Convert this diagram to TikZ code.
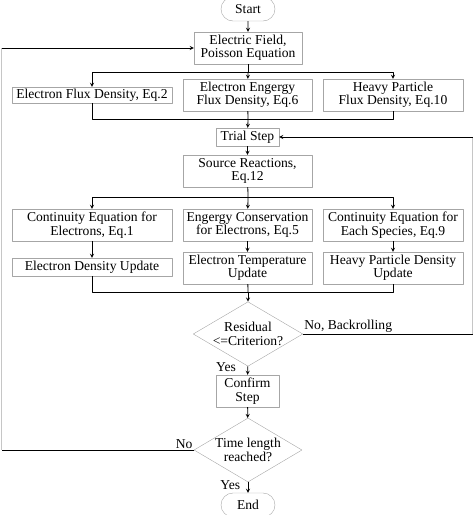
\documentclass[tikz,border=0pt]{standalone}
\usepackage{fontspec}
\setmainfont{Liberation Serif}
\usetikzlibrary{shapes.geometric,shapes.misc}
\begin{document}
\begin{tikzpicture}[>=stealth,line join=round,x=1pt,y=-1pt,font=\fontsize{13.6}{13.4}\selectfont,
	box/.style={draw=gray!70,align=center,inner sep=0pt},
	term/.style={draw=gray!70,rounded rectangle,minimum width=54pt,minimum height=24pt,inner sep=0pt},
	dec/.style={draw=gray!70,diamond,align=center,minimum width=108pt,minimum height=64pt,inner sep=0pt,aspect=1.7},
	wire/.style={line width=0.8pt},
	side/.style={line width=1.6pt,gray!45}]
	\def\xA{92} \def\xB{247.5} \def\xC{393}
	\def\wA{160pt} \def\wB{129pt} \def\wC{140pt}
	\useasboundingbox (0,0) rectangle (474,515);
	\node[term] (start) at (248,9) {Start};
	\node[box,minimum width=108pt,minimum height=32pt] (field) at (248,48) {Electric Field,\\Poisson Equation};
	\node[box,minimum width=\wA,minimum height=16pt] (fluxE) at (\xA,95) {Electron Flux Density, Eq.2};
	\node[box,minimum width=\wB,minimum height=32pt] (fluxEn) at (\xB,95) {Electron Engergy\\Flux Density, Eq.6};
	\node[box,minimum width=\wC,minimum height=32pt] (fluxH) at (\xC,95) {Heavy Particle\\Flux Density, Eq.10};
	\node[box,minimum width=63pt,minimum height=18pt] (trial) at (\xB,137) {Trial Step};
	\node[box,minimum width=\wB,minimum height=32pt] (source) at (\xB,171) {Source Reactions,\\Eq.12};
	\node[box,minimum width=\wA,minimum height=32pt] (contE) at (\xA,225) {Continuity Equation for\\Electrons, Eq.1};
	\node[box,minimum width=\wB,minimum height=32pt] (contEn) at (\xB,225) {Engergy Conservation\\for Electrons, Eq.5};
	\node[box,minimum width=\wC,minimum height=32pt] (contH) at (\xC,225) {Continuity Equation for\\Each Species, Eq.9};
	\node[box,minimum width=\wA,minimum height=18pt] (updE) at (\xA,267) {Electron Density Update};
	\node[box,minimum width=\wB,minimum height=32pt] (updEn) at (\xB,268) {Electron Temperature\\Update};
	\node[box,minimum width=\wC,minimum height=32pt] (updH) at (\xC,268) {Heavy Particle Density\\Update};
	\node[dec] (resid) at (248,334) {Residual\\<=Criterion?};
	\node[box,minimum width=63pt,minimum height=32pt] (confirm) at (\xB,391) {Confirm\\Step};
	\node[dec] (time) at (248,450) {Time length\\reached?};
	\node[term] (end) at (248,505) {End};
	\coordinate (split1) at (248,72);
	\coordinate (join1) at (248,119);
	\coordinate (split2) at (248,197);
	\coordinate (join2) at (248,292);
	\coordinate (backB) at (472.5,334);
	\coordinate (backT) at (472.5,137);
	\coordinate (loopB) at (1.5,450);
	\coordinate (loopT) at (1.5,48);
	\draw[wire,->] (start) -- (field);
	\draw[wire] (field) -- (split1);
	\draw[wire,->] (split1) -| (fluxE.north);
	\draw[wire,->] (split1) -- (fluxEn);
	\draw[wire,->] (split1) -| (fluxH.north);
	\draw[wire] (fluxE.south) |- (join1);
	\draw[wire] (fluxH.south) |- (join1);
	\draw[wire] (fluxEn) -- (join1);
	\draw[wire,->] (join1) -- (trial);
	\draw[wire,->] (trial) -- (source);
	\draw[wire] (source) -- (split2);
	\draw[wire,->] (split2) -| (contE.north);
	\draw[wire,->] (split2) -- (contEn);
	\draw[wire,->] (split2) -| (contH.north);
	\draw[wire,->] (contE) -- (updE);
	\draw[wire,->] (contEn) -- (updEn);
	\draw[wire,->] (contH) -- (updH);
	\draw[wire] (updE.south) |- (join2);
	\draw[wire] (updH.south) |- (join2);
	\draw[wire] (updEn) -- (join2);
	\draw[wire,->] (join2) -- (resid);
	\draw[wire,->] (resid) -- node[left=8pt,pos=0.05]{Yes} (confirm);
	\draw[wire,->] (confirm) -- (time);
	\draw[wire,->] (time) -- node[left=4pt,pos=0.3]{Yes} (end);
	\draw[wire] (resid.east) -- node[above right,pos=0,inner sep=1pt]{No, Backrolling} (backB);
	\draw[side] (backB) -- (backT);
	\draw[wire,->] (backT) -- (trial);
	\draw[wire] (time.west) -- node[above left,pos=0,inner sep=1pt]{No} (loopB);
	\draw[side] (loopB) -- (loopT);
	\draw[wire,->] (loopT) -- (field);
\end{tikzpicture}
\end{document}
